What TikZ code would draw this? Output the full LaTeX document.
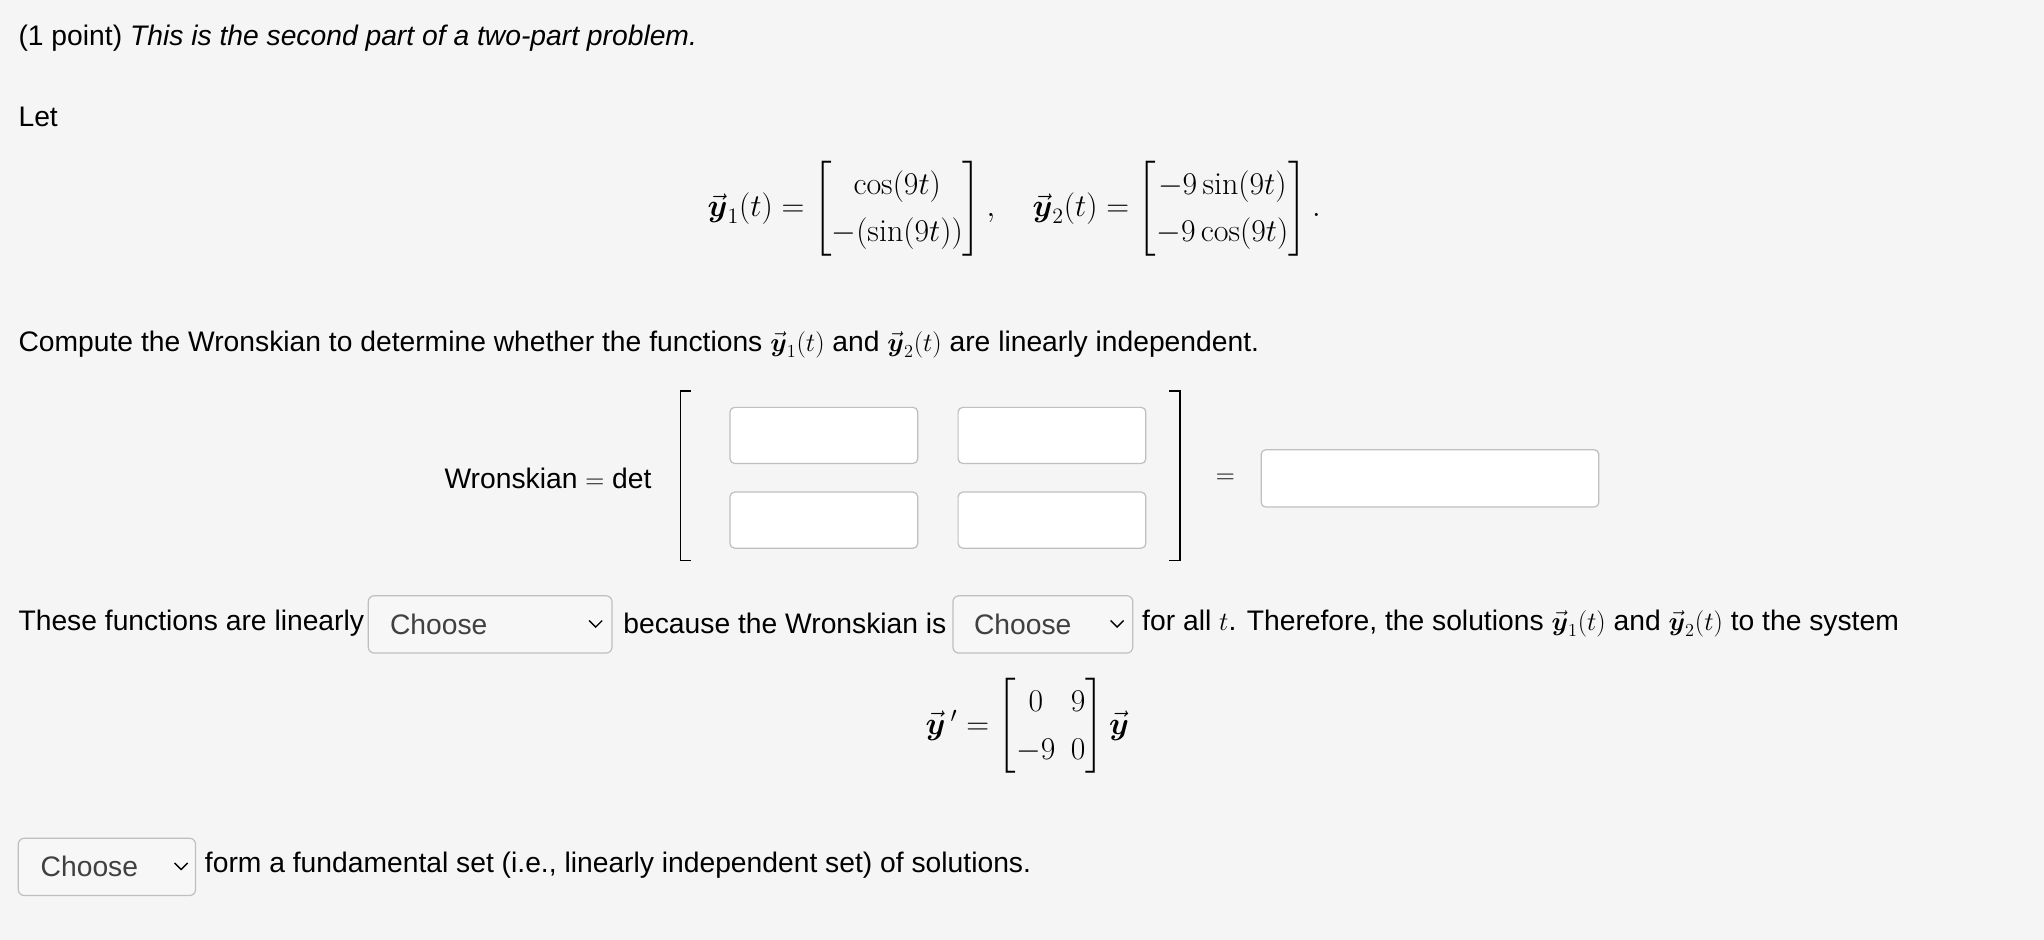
\documentclass[tikz,border=0pt]{standalone}
\usepackage{amsmath}
\usepackage{fontspec}
\setmainfont{Liberation Sans}
\setmathrm{Latin Modern Roman}
\begin{document}
\begin{tikzpicture}[x=0.03cm,y=-0.03cm,
  txt/.style={anchor=west,inner sep=0pt,font=\fontsize{18.5}{22}\selectfont},
  mth/.style={inner sep=0pt,font=\fontsize{21}{25}\selectfont},
  inbox/.style={draw=black!25,fill=white,rounded corners=3pt,line width=0.8pt},
  ddbox/.style={draw=black!25,fill=white!97!black,rounded corners=4pt,line width=0.8pt}]
\newcommand{\vy}{\vec{\boldsymbol{y}}}
\renewcommand{\arraystretch}{1.25}
\fill[black!4] (0,0) rectangle (1568,721);
\node[txt] (t1) at (14,29) {(1 point) \textit{This is the second part of a two-part problem.}};
\node[txt] (t2) at (14,90) {Let};
\node[mth] (eq1) at (778,160) {$\vy_1(t)=\begin{bmatrix}\cos(9t)\\-(\sin(9t))\end{bmatrix},\quad \vy_2(t)=\begin{bmatrix}-9\sin(9t)\\-9\cos(9t)\end{bmatrix}.$};
\node[txt] (t3) at (14,264) {Compute the Wronskian to determine whether the functions $\vy_1(t)$ and $\vy_2(t)$ are linearly independent.};
\node[txt,anchor=east] (w) at (500,367) {Wronskian $=$ det};
\draw[line width=1.2pt] (530,300) -- (522,300) -- (522,430) -- (530,430);
\draw[line width=1.2pt] (897,300) -- (905,300) -- (905,430) -- (897,430);
\node[inbox,minimum width=4.32cm,minimum height=1.29cm] (b11) at (632,334) {};
\node[inbox,minimum width=4.32cm,minimum height=1.29cm] (b12) at (807,334) {};
\node[inbox,minimum width=4.32cm,minimum height=1.29cm] (b21) at (632,399) {};
\node[inbox,minimum width=4.32cm,minimum height=1.29cm] (b22) at (807,399) {};
\node[txt,anchor=center] (eqs) at (940,367) {$=$};
\node[inbox,minimum width=7.77cm,minimum height=1.32cm] (res) at (1097,367) {};
\node[txt] (t4) at (14,478) {These functions are linearly};
\node[ddbox,minimum width=5.61cm,minimum height=1.32cm] (d1) at (376,479) {};
\node[txt,text=black!75] at (299,479) {Choose};
\draw[line width=0.9pt] (452,476) -- (457,481) -- (462,476);
\node[txt] (t5) at (478,478) {because the Wronskian is};
\node[ddbox,minimum width=4.14cm,minimum height=1.32cm] (d2) at (800,479) {};
\node[txt,text=black!75] at (747,479) {Choose};
\draw[line width=0.9pt] (852,476) -- (857,481) -- (862,476);
\node[txt] (t6) at (876,478) {for all $t$. Therefore, the solutions $\vy_1(t)$ and $\vy_2(t)$ to the system};
\node[mth] (eq2) at (788,557) {$\vy\,'=\begin{bmatrix}0&9\\-9&0\end{bmatrix}\vy$};
\node[ddbox,minimum width=4.08cm,minimum height=1.32cm] (d3) at (82,665) {};
\node[txt,text=black!75] at (31,665) {Choose};
\draw[line width=0.9pt] (134,662) -- (139,667) -- (144,662);
\node[txt] (t7) at (157,664) {form a fundamental set (i.e., linearly independent set) of solutions.};
\end{tikzpicture}
\end{document}
